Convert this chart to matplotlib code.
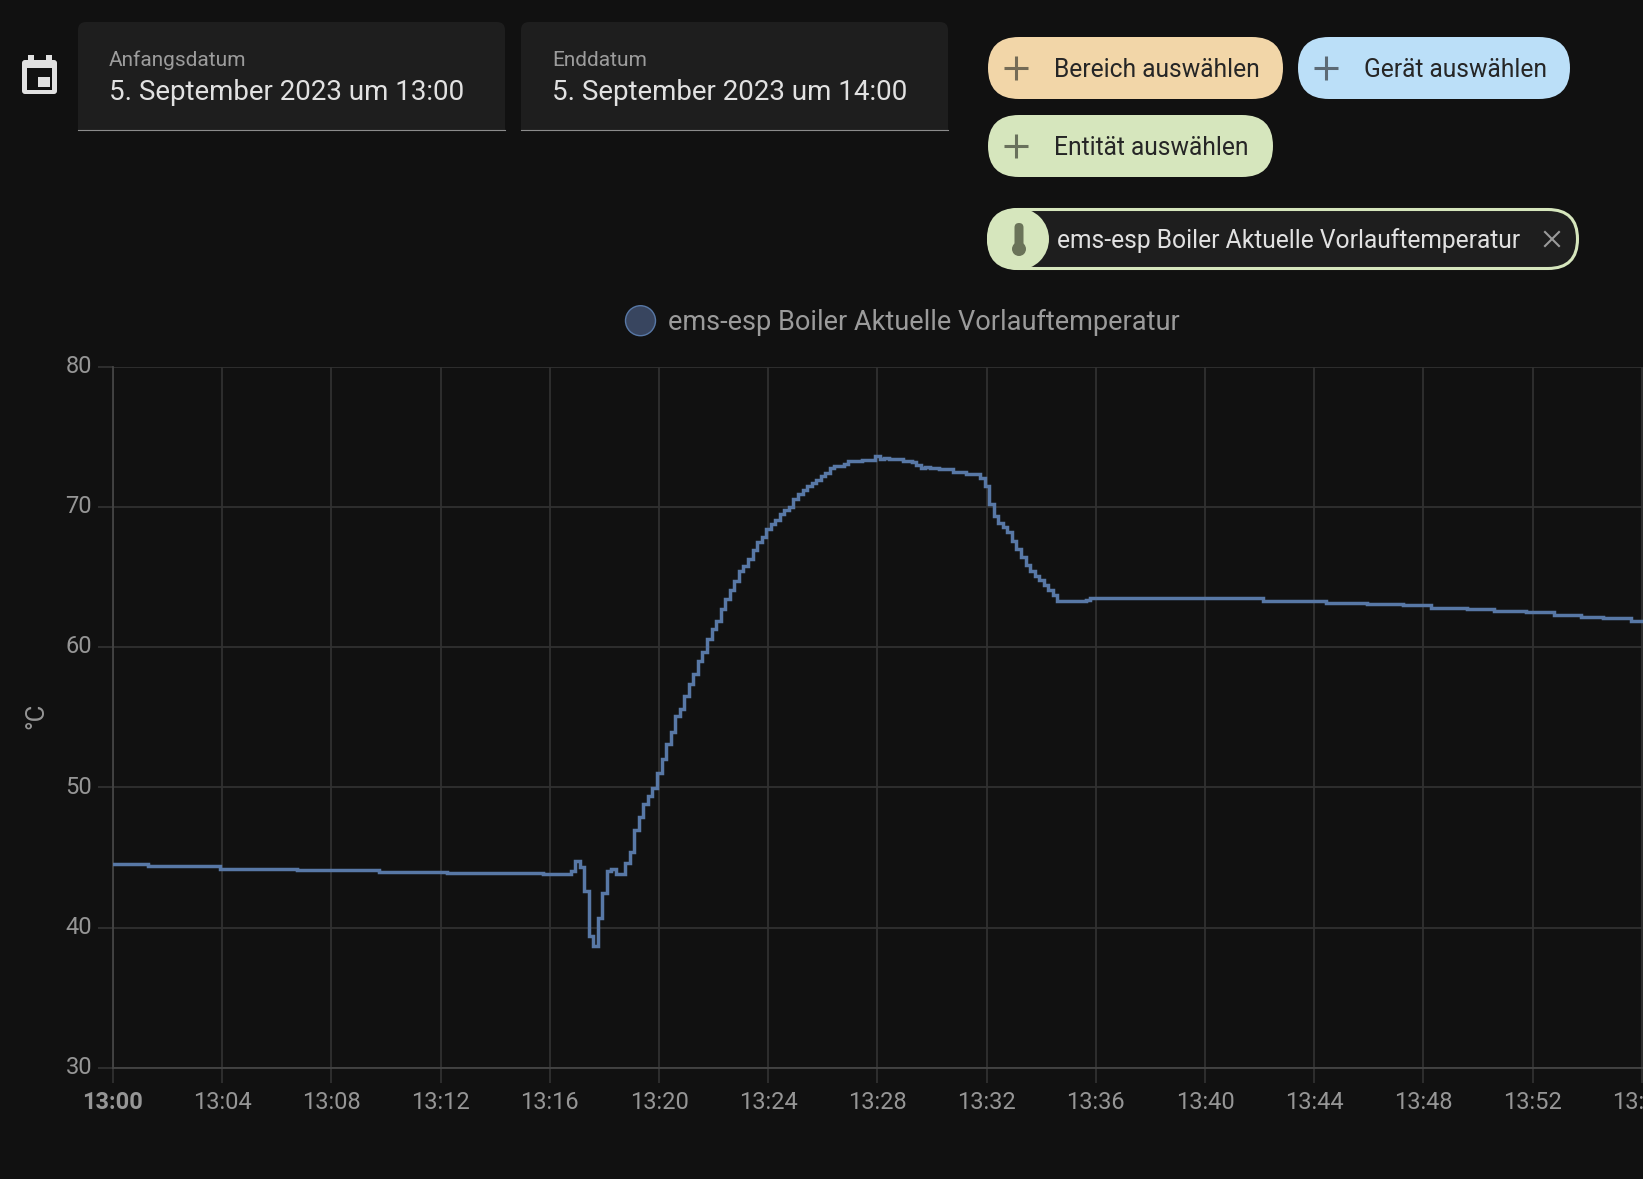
import numpy as np
import matplotlib
matplotlib.use('Agg')
import matplotlib.pyplot as plt
from matplotlib.patches import FancyBboxPatch, Rectangle, Circle
from matplotlib.transforms import ScaledTranslation

plt.rcParams['font.family'] = ['Roboto', 'DejaVu Sans']

# Slow drift before the heating starts (minutes after 13:00, deg C)
head_times = [0, 1.27, 3.92, 6.75, 9.76, 12.25, 15.76]
head_temps = [44.51, 44.41, 44.2, 44.1, 44.0, 43.9, 43.8]

# Main part, one reading every 10 seconds starting at 13:16:46
sample_start = 16.76
sample_temps = [
    44.03, 44.73, 44.3, 42.6, 39.4, 38.7, 40.7, 42.5, 44.03, 44.2, 43.8, 43.8,
    44.6, 45.4, 47.0, 47.9, 48.8, 49.4, 49.93, 51.0, 52.0, 53.09, 53.96, 55.08,
    55.6, 56.5, 57.36, 58.07, 59.02, 59.69, 60.59, 61.28, 61.87, 62.69, 63.47,
    64.08, 64.7, 65.42, 65.77, 66.32, 66.91, 67.5, 67.86, 68.41, 68.77, 69.05,
    69.48, 69.81, 70.0, 70.6, 70.9, 71.19, 71.48, 71.71, 71.9, 72.19, 72.45,
    72.81, 72.9, 72.9, 73.09, 73.28, 73.28, 73.28, 73.38, 73.38, 73.38, 73.61,
    73.4, 73.49, 73.4, 73.4, 73.4, 73.28, 73.28, 73.21, 73.02, 72.76, 72.88,
    72.81, 72.81, 72.69, 72.69, 72.69, 72.5, 72.5, 72.5, 72.38, 72.38, 72.38,
    72.1, 71.48, 70.19, 69.36, 68.89, 68.57, 68.22, 67.58, 67.0, 66.46, 65.89,
    65.44, 65.08, 64.78, 64.47, 64.06, 63.71, 63.28,
]

# Slow cooling at the end
tail_times = [35.64, 35.77, 42.11, 44.43, 45.95, 47.27, 48.27, 49.61, 50.59,
              51.76, 52.78, 53.76, 54.59, 55.59, 56.2]
tail_temps = [63.4, 63.49, 63.28, 63.18, 63.09, 62.99, 62.78, 62.69, 62.59,
              62.49, 62.3, 62.19, 62.09, 61.9, 61.9]

x_ticks = list(range(0, 57, 4))
x_labels = ['13:00', '13:04', '13:08', '13:12', '13:16', '13:20', '13:24', '13:28',
            '13:32', '13:36', '13:40', '13:44', '13:48', '13:52', '13:56']
y_ticks = [30, 40, 50, 60, 70, 80]

series_name = 'ems-esp Boiler Aktuelle Vorlauftemperatur'

sample_times = sample_start + np.arange(len(sample_temps)) / 6
times = np.concatenate([head_times, sample_times, tail_times])
temps = np.concatenate([head_temps, sample_temps, tail_temps])

BG = '#111111'
FIELD = '#1e1e1e'
GRID = '#313131'
AXIS = '#454545'
TICK_TEXT = '#969696'
LINE = '#5878a6'
W, H = 1643, 1179

fig = plt.figure(figsize=(W / 100, H / 100), dpi=100, facecolor=BG)

# Chart area, placed by pixels
left, right, top, bottom = 113, 1643, 366.7, 1068
ax = fig.add_axes([left / W, 1 - bottom / H, (right - left) / W, (bottom - top) / H])
ax.set_facecolor(BG)
ax.set_xlim(0, (right - left) / 27.3)
ax.set_ylim(30, 80)
ax.step(times, temps, where='post', color=LINE, lw=2.5, solid_joinstyle='miter', zorder=3)
ax.set_xticks(x_ticks)
ax.set_xticklabels(x_labels)
ax.set_yticks(y_ticks)
ax.grid(True, color=GRID, lw=1.3)
ax.tick_params(axis='x', length=11, width=1.3, color=GRID, labelcolor=TICK_TEXT, labelsize=17, pad=5.7)
ax.tick_params(axis='y', length=11, width=1.3, color=GRID, labelcolor=TICK_TEXT, labelsize=17, pad=4)
ax.get_xticklabels()[0].set_fontweight('bold')
for label in ax.get_yticklabels():
    label.set_transform(label.get_transform() + ScaledTranslation(0, 2 / 72, fig.dpi_scale_trans))
for side in ['top', 'right']:
    ax.spines[side].set_visible(False)
for side in ['left', 'bottom']:
    ax.spines[side].set_color(AXIS)
    ax.spines[side].set_linewidth(1.3)

# Overlay in pixel coordinates for the controls above the chart
ui = fig.add_axes([0, 0, 1, 1])
ui.set_xlim(0, W)
ui.set_ylim(H, 0)
ui.axis('off')
ui.patch.set_alpha(0)


def pill(x0, x1, y0, y1, color, edge='none', lw=0, radius=None):
    r = radius if radius is not None else (y1 - y0) / 2
    ui.add_patch(FancyBboxPatch((x0, y0), x1 - x0, y1 - y0, boxstyle=f'round,pad=0,rounding_size={r}',
                                fc=color, ec=edge, lw=lw, mutation_aspect=1))


def add_chip(x0, x1, y0, y1, color, label, plus_color):
    pill(x0, x1, y0, y1, color)
    cy = (y0 + y1) / 2
    px = x0 + 27.5
    ui.plot([px - 12, px + 12], [cy, cy], color=plus_color, lw=2.2, solid_capstyle='butt')
    ui.plot([px, px], [cy - 12, cy + 12], color=plus_color, lw=2.2, solid_capstyle='butt')
    ui.text(x0 + 66.5, cy - 0.4, label, color='#262626', fontsize=17.75, va='center_baseline', ha='left')


# Date fields
for x0, x1, label, value in [(78, 505, 'Anfangsdatum', '5. September 2023 um 13:00'),
                             (521, 948, 'Enddatum', '5. September 2023 um 14:00')]:
    pill(x0, x1, 22, 129.5, FIELD, radius=8)
    ui.add_patch(Rectangle((x0, 60), x1 - x0, 69.5, fc=FIELD, ec='none'))
    ui.plot([x0, x1], [130, 130], color='#8c8c8c', lw=0.8)
    ui.text(x0 + 31, 58.3, label, color='#9c9c9c', fontsize=15, va='center_baseline')
    ui.text(x0 + 31, 90, value, color='#e1e1e1', fontsize=20, va='center_baseline')

# Calendar icon
icon = '#e1e1e1'
pill(22, 57, 60, 94, icon, radius=3)
ui.add_patch(Rectangle((27.5, 55), 6, 6, fc=icon, ec='none'))
ui.add_patch(Rectangle((46, 55), 6, 6, fc=icon, ec='none'))
ui.add_patch(Rectangle((27, 68), 25, 22, fc=BG, ec='none'))
ui.add_patch(Rectangle((38, 77), 12, 10, fc=icon, ec='none'))

# Target chips
add_chip(988, 1283, 37, 99, '#f2d6a8', 'Bereich auswählen', '#746b56')
add_chip(1298, 1570, 37, 99, '#bbdff8', 'Gerät auswählen', '#5c6a75')
add_chip(988, 1273, 115, 177, '#d6e6bd', 'Entität auswählen', '#69715c')

# Selected entity chip
pill(988.5, 1577.5, 209.5, 268.5, FIELD, edge='#d6e6bd', lw=2.2)
ui.add_patch(Circle((1018, 239), 31, fc='#d6e6bd', ec='none'))
therm = '#6a7359'
pill(1014.5, 1023.5, 223, 248, therm, radius=4.5)
ui.add_patch(Circle((1019, 249), 7, fc=therm, ec='none'))
ui.text(1056.7, 238, series_name, color='#e1e1e1', fontsize=17.75, va='center_baseline')
ui.plot([1545, 1559], [232, 246], color='#9a9a9a', lw=1.5)
ui.plot([1545, 1559], [246, 232], color='#9a9a9a', lw=1.5)

# Legend and axis unit
ui.add_patch(Circle((640.5, 320.7), 15, fc='#38455f', ec=LINE, lw=1))
ui.text(667.5, 319.5, series_name, color='#9b9b9b', fontsize=19.5, va='center_baseline')
ui.text(36, 716, '°C', color=TICK_TEXT, fontsize=18.5, rotation=90, ha='center', va='center')

fig.savefig('out.png', dpi=100, facecolor=BG)
